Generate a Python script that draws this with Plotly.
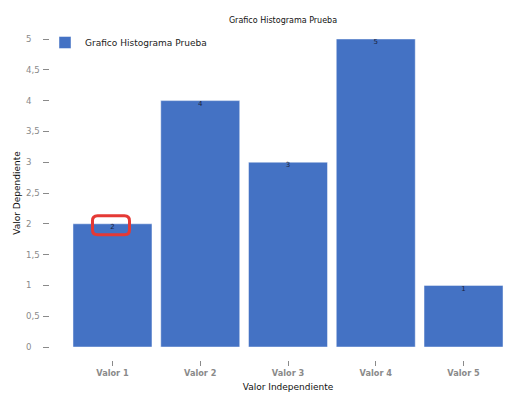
import plotly.graph_objects as go

categories = ["Valor 1", "Valor 2", "Valor 3", "Valor 4", "Valor 5"]
values = [2, 4, 3, 5, 1]
y_tickvals = [0, 0.5, 1, 1.5, 2, 2.5, 3, 3.5, 4, 4.5, 5]
y_ticktext = ["0", "0,5", "1", "1,5", "2", "2,5", "3", "3,5", "4", "4,5", "5"]
series_name = "Grafico Histograma Prueba"
chart_title = "Grafico Histograma Prueba"
x_title = "Valor Independiente"
y_title = "Valor Dependiente"

FONT = "DejaVu Sans"
BAR = "#4472C4"
GRAY = "#8a8a8a"

fig = go.Figure()
fig.add_trace(go.Bar(
    x=categories, y=values, name=series_name,
    marker=dict(color=BAR, line=dict(color="rgba(255,255,255,0.45)", width=1)),
    showlegend=True, hoverinfo="x+y",
))
# value labels just under each bar top
fig.add_trace(go.Scatter(
    x=categories, y=values, mode="text", text=[str(v) for v in values],
    textposition="bottom center", textfont=dict(family=FONT, size=7, color="#1b2340"),
    showlegend=False, hoverinfo="skip",
))
# invisible trace to carry the tick-mark axis
fig.add_trace(go.Scatter(x=[categories[0]], y=[values[0]], yaxis="y2", mode="markers",
                         marker=dict(opacity=0), showlegend=False, hoverinfo="skip"))

def rounded_rect(x0, x1, y0, y1, r):
    return (f"M{x0+r},{y1} L{x1-r},{y1} Q{x1},{y1} {x1},{y1-r} "
            f"L{x1},{y0+r} Q{x1},{y0} {x1-r},{y0} L{x0+r},{y0} "
            f"Q{x0},{y0} {x0},{y0+r} L{x0},{y1-r} Q{x0},{y1} {x0+r},{y1} Z")

fig.add_shape(type="path", xref="x", yref="y", xsizemode="pixel", ysizemode="pixel",
              xanchor=0, yanchor=values[0],
              path=rounded_rect(-20, 17, -11, 8, 5),
              line=dict(color="#e53935", width=3), fillcolor="rgba(0,0,0,0)")

# page body has an 8px offset; positions below are in reference-frame pixels
W = 510.0
H = 330.0
fig.update_layout(
    width=530, height=402,
    margin=dict(l=2, r=18, t=22, b=50),
    paper_bgcolor="white", plot_bgcolor="white",
    font=dict(family=FONT, size=9, color="#222"),
    bargap=0.1,
    title=dict(text=chart_title, x=(283 - 10) / W, xanchor="center", xref="paper",
               y=1 - 12 / 402, yanchor="middle", yref="container",
               font=dict(family=FONT, size=8, color="#111")),
    legend=dict(x=(45 - 10) / W, y=(360 - 28) / H, xanchor="left", yanchor="top",
                font=dict(family=FONT, size=9, color="#222"), bgcolor="rgba(0,0,0,0)"),
    xaxis=dict(domain=[(68.6 - 10) / W, (507.4 - 10) / W], anchor="free", position=0,
               showline=False, showgrid=False, zeroline=False,
               ticks="outside", ticklen=5, tickcolor=GRAY, tickwidth=1,
               tickfont=dict(family=FONT, size=8.2, color=GRAY, weight="bold"),
               title=dict(text=x_title, standoff=6, font=dict(family=FONT, size=9, color="#111"))),
    yaxis=dict(domain=[(360 - 347) / H, (360 - 39) / H], range=[0, 5],
               anchor="free", position=(22 - 10) / W,
               showline=False, showgrid=False, zeroline=False,
               tickvals=y_tickvals, ticktext=y_ticktext, ticks="",
               ticklabelposition="inside", ticklabeloverflow="allow",
               tickfont=dict(family=FONT, size=8.6, color=GRAY),
               title=dict(text=y_title, standoff=2, font=dict(family=FONT, size=9, color="#111"))),
    yaxis2=dict(overlaying="y", matches="y", anchor="free", position=(49 - 10) / W,
                showline=False, showgrid=False, zeroline=False,
                tickvals=y_tickvals, showticklabels=False,
                ticks="outside", ticklen=6, tickcolor=GRAY, tickwidth=1),
)

fig.write_html("out.html")
